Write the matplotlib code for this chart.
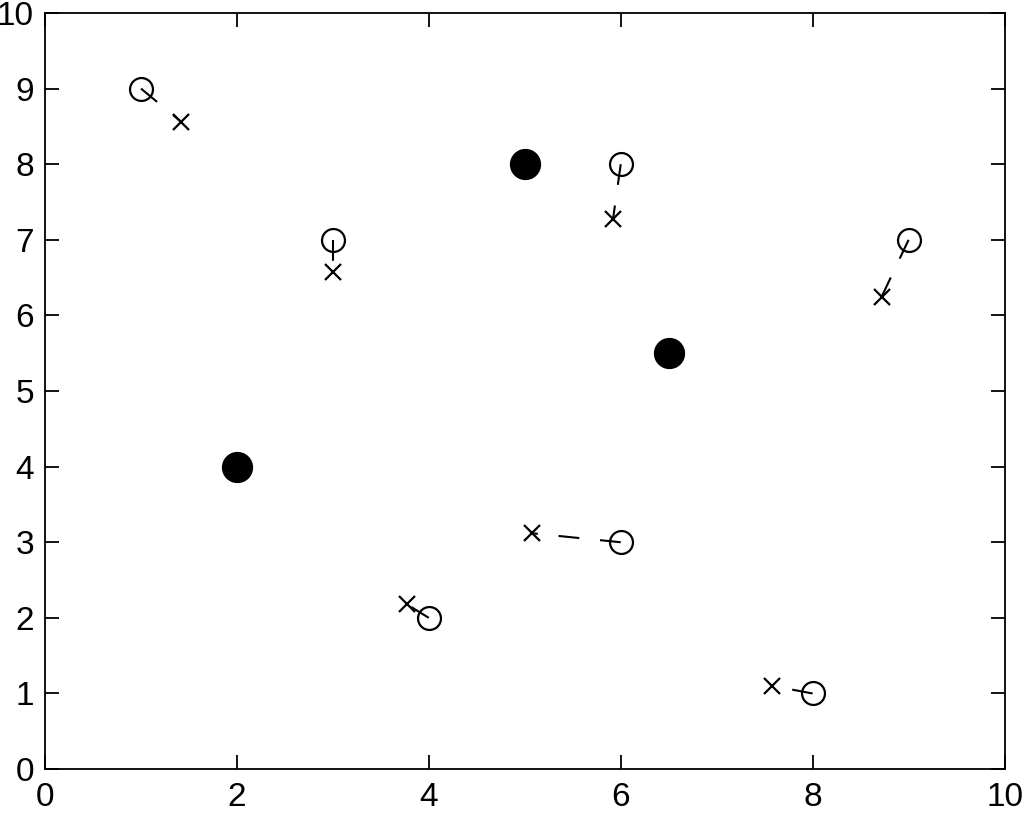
import matplotlib
matplotlib.use("Agg")
import matplotlib.pyplot as plt

plt.rcParams['font.family'] = ['Liberation Sans', 'DejaVu Sans']

# circles (true positions) and crosses (estimates)
circ_x = [1, 3, 6, 9, 6, 4, 8]
circ_y = [9, 7, 8, 7, 3, 2, 1]
cross_x = [1.42, 3.0, 5.92, 8.72, 5.07, 3.77, 7.58]
cross_y = [8.56, 6.58, 7.28, 6.25, 3.12, 2.18, 1.10]

# filled dots
dot_x = [2, 5, 6.5]
dot_y = [4, 8, 5.5]

fig = plt.figure(figsize=(10.24, 8.13), dpi=100)
ax = fig.add_axes([0.044, 0.054, 0.937, 0.930])

for cx, cy, kx, ky in zip(circ_x, circ_y, cross_x, cross_y):
    ax.plot([cx, kx], [cy, ky], color='black', lw=1.5,
            linestyle=(0, (10, 10)), zorder=1)

ax.plot(circ_x, circ_y, 'o', ms=16.5, mfc='none', mec='black', mew=1.6, zorder=2)
ax.plot(cross_x, cross_y, 'x', ms=12, color='black', mew=1.6, zorder=2)
ax.plot(dot_x, dot_y, 'o', ms=21.5, color='black', zorder=3)

ax.set_xlim(0, 10)
ax.set_ylim(0, 10)
ax.set_xticks(range(0, 11, 2))
ax.set_yticks(range(0, 11, 1))
ax.tick_params(direction='in', top=True, right=True, length=10, width=1.3,
               labelsize=24, pad=8)
ax.tick_params(axis='x', pad=9)
for s in ax.spines.values():
    s.set_linewidth(1.3)

fig.savefig('out.png', dpi=100)
